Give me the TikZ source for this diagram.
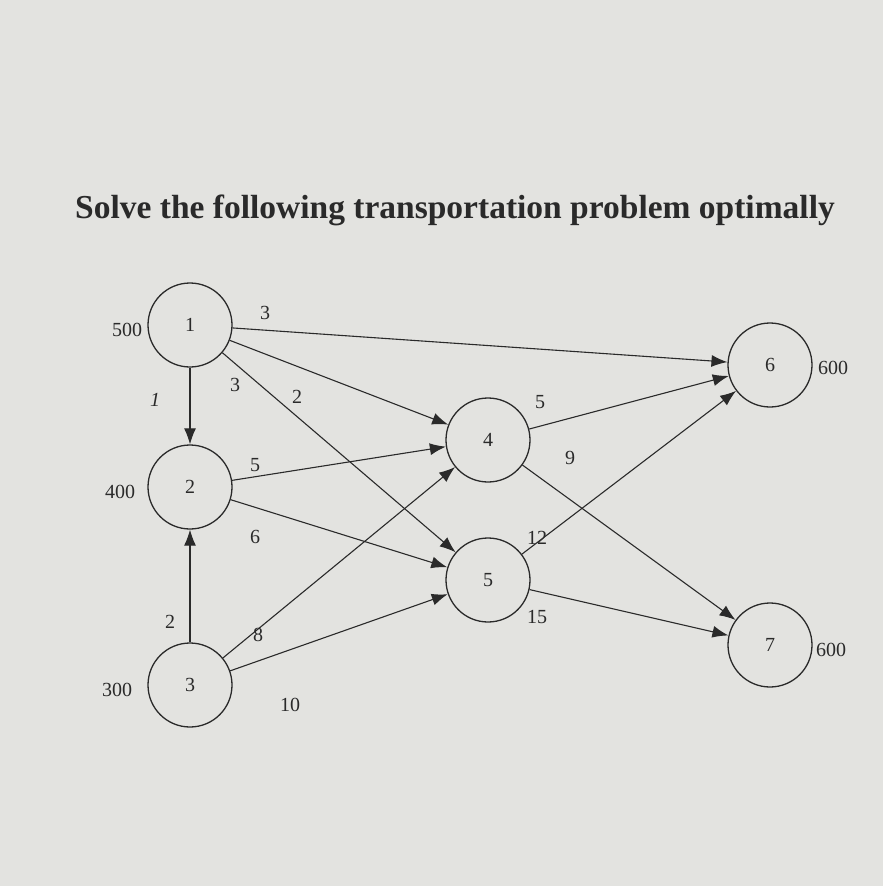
\documentclass[tikz,border=0pt]{standalone}
\usepackage{fontspec}
\setmainfont{Liberation Serif}
\usetikzlibrary{arrows.meta}
\definecolor{bg}{HTML}{E3E3E0}
\definecolor{ink}{HTML}{2A2A2A}
\begin{document}
\begin{tikzpicture}[x=1pt,y=-1pt,
  nd/.style={circle,draw=ink,line width=1.3pt,minimum size=84pt,inner sep=0pt,font=\fontsize{20}{22}\selectfont,text=ink},
  ed/.style={draw=ink,line width=1.1pt,-{Latex[length=16pt,width=12pt]}},
  lb/.style={font=\fontsize{20}{22}\selectfont,text=ink}]
\fill[bg] (0,0) rectangle (883,886);
\useasboundingbox (0,0) rectangle (883,886);
\node[text=ink,font=\fontsize{33.5}{36}\selectfont\bfseries] (title) at (455,210) {Solve the following transportation problem optimally};
\node[nd] (n1) at (190,325) {1};
\node[nd] (n2) at (190,487) {2};
\node[nd] (n3) at (190,685) {3};
\node[nd] (n4) at (488,440) {4};
\node[nd] (n5) at (488,580) {5};
\node[nd] (n6) at (770,365) {6};
\node[nd] (n7) at (770,645) {7};
\node[lb] (s1) at (127,330) {500};
\node[lb] (s2) at (120,492) {400};
\node[lb] (s3) at (117,690) {300};
\node[lb] (d6) at (833,368) {600};
\node[lb] (d7) at (831,650) {600};
\draw[ed] (n1) -- (n6);
\draw[ed] (n1) -- (n4);
\draw[ed] (n1) -- (n5);
\draw[ed] (n1) -- (n2);
\draw[ed] (n2) -- (n4);
\draw[ed] (n2) -- (n5);
\draw[ed] (n3) -- (n2);
\draw[ed] (n3) -- (n4);
\draw[ed] (n3) -- (n5);
\draw[ed] (n4) -- (n6);
\draw[ed] (n4) -- (n7);
\draw[ed] (n5) -- (n6);
\draw[ed] (n5) -- (n7);
\node[lb] (l16) at (265,313) {3};
\node[lb] (l14) at (235,385) {3};
\node[lb] (l15) at (297,397) {2};
\node[lb] (l12) at (155,400) {\itshape 1};
\node[lb] (l24) at (255,465) {5};
\node[lb] (l25) at (255,537) {6};
\node[lb] (l32) at (170,622) {2};
\node[lb] (l34) at (258,635) {8};
\node[lb] (l35) at (290,705) {10};
\node[lb] (l46) at (540,402) {5};
\node[lb] (l47) at (570,458) {9};
\node[lb] (l56) at (537,538) {12};
\node[lb] (l57) at (537,617) {15};
\end{tikzpicture}
\end{document}
